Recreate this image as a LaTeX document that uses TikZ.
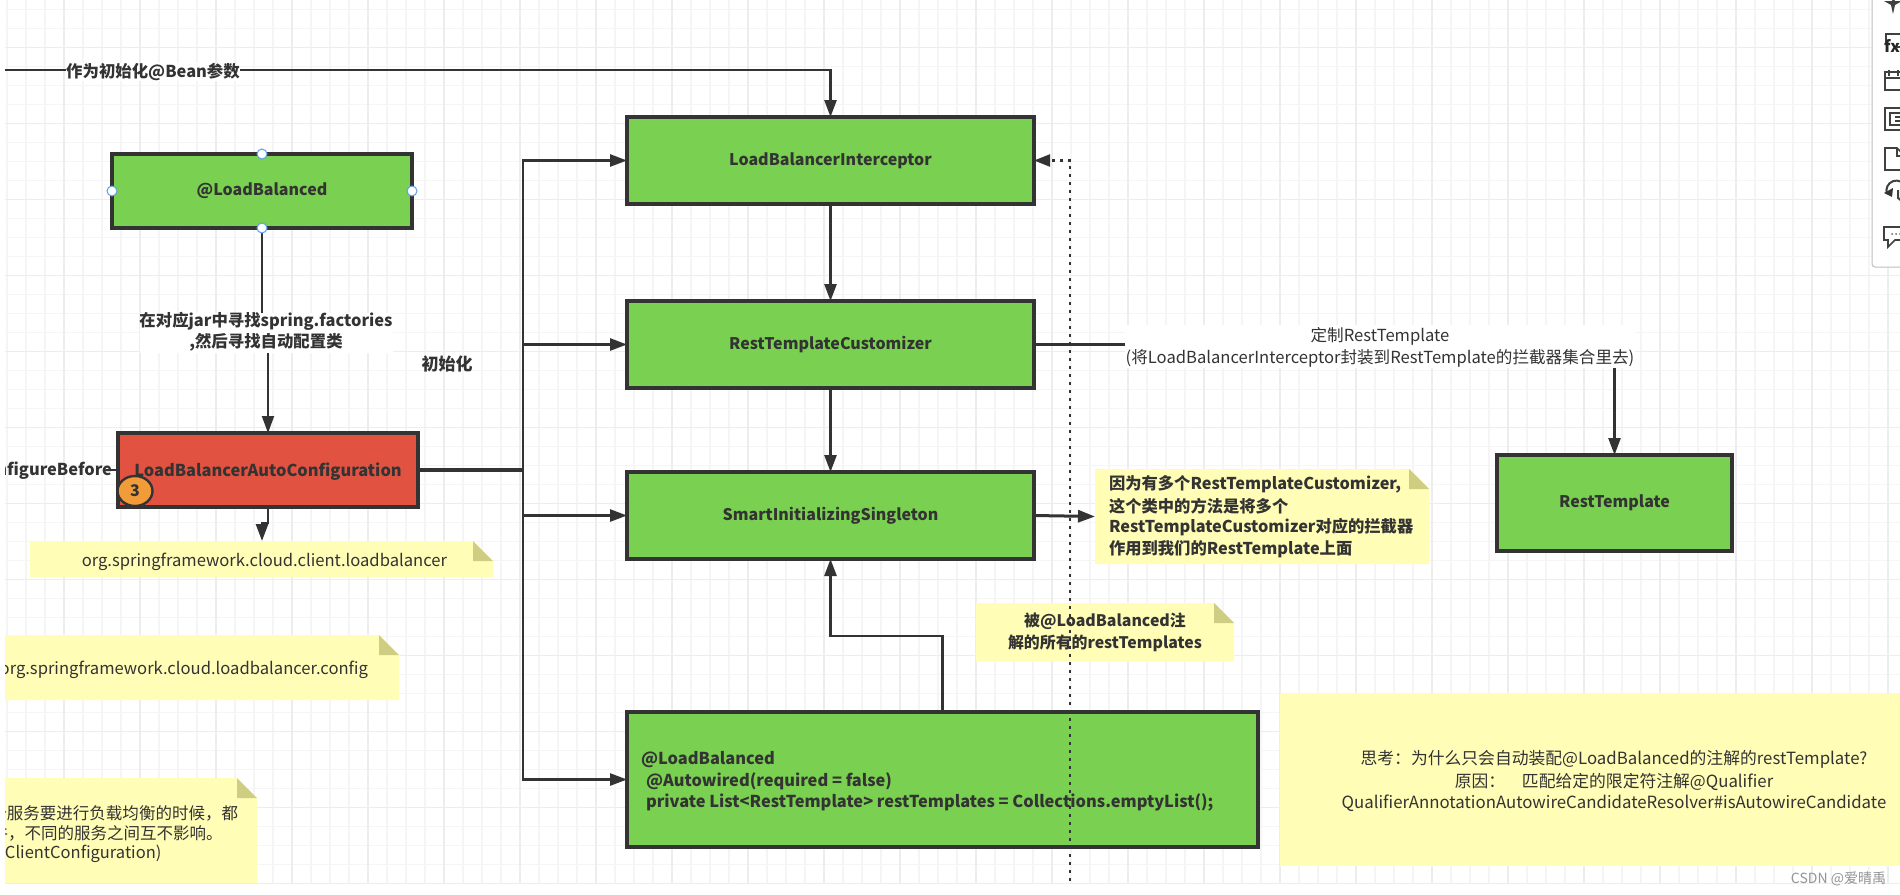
\documentclass[tikz,border=0pt]{standalone}
\usepackage{fontspec}
\setmainfont{Noto Sans CJK SC}
\usetikzlibrary{arrows.meta,shapes.geometric}
\definecolor{ink}{HTML}{333333}
\definecolor{boxgreen}{HTML}{7AD050}
\definecolor{boxred}{HTML}{E25241}
\definecolor{noteyellow}{HTML}{FFFDB6}
\definecolor{notefold}{HTML}{CFCD82}
\definecolor{gridminor}{HTML}{F5F5F5}
\definecolor{gridmajor}{HTML}{EDEDED}
\definecolor{badgeorange}{HTML}{F19C38}
\definecolor{handleblue}{HTML}{5A9EEC}
\newcommand{\fs}[1]{\fontsize{#1}{#1}\selectfont}
\newcommand{\dn}[1]{\raisebox{-2pt}{#1}}
\tikzset{
  x=1pt,y=-1pt,
  flow/.style={draw=ink,line width=2.6pt,-{Triangle[length=17pt,width=12pt]}},
  link/.style={draw=ink,line width=2.6pt},
  dots/.style={draw=ink,line width=2.4pt,dash pattern=on 3pt off 5pt,-{Triangle[length=16pt,width=12pt]}},
  block/.style={draw=ink,line width=3.2pt,inner sep=0pt,outer sep=0pt,text=ink,font=\fs{16}\bfseries},
  green/.style={block,fill=boxgreen},
  label/.style={text=ink,inner sep=0pt,outer sep=0pt,align=center},
  halo/.style={fill=white,inner sep=0pt,outer sep=0pt},
  grab/.style={ellipse,draw=handleblue,fill=white,line width=1pt,minimum width=10pt,minimum height=10pt,inner sep=0pt,outer sep=0pt},
  notearea/.style={inner sep=0pt,outer sep=0pt},
  tool/.style={draw=black!75,line width=1.6pt,fill=none},
}
% name, x0, y0, x1, y1: yellow sticky note with folded corner
\newcommand{\stickynote}[5]{%
  \path[fill=noteyellow] (#2,#3) -- ({#4-20},#3) -- (#4,{#3+20}) -- (#4,#5) -- (#2,#5) -- cycle;
  \path[fill=notefold] ({#4-20},#3) -- (#4,{#3+20}) -- ({#4-20},{#3+20}) -- cycle;
  \node[notearea,minimum width={(#4-#2)*1pt},minimum height={(#5-#3)*1pt}] (#1) at ({(#2+#4)/2},{(#3+#5)/2}) {};
}
\begin{document}
\begin{tikzpicture}
\useasboundingbox (0,0) rectangle (1900,894);
\fill[white] (0,0) rectangle (1900,894);
% canvas grid
\begin{scope}
  \clip (5,0) rectangle (1900,883);
  \foreach \k in {0,...,100} \draw[gridminor,line width=1.4pt] ({7+19*\k},0) -- ({7+19*\k},883);
  \foreach \k in {0,...,47} \draw[gridminor,line width=1.4pt] (0,{9.5+19*\k}) -- (1900,{9.5+19*\k});
  \foreach \k in {0,...,25} \draw[gridmajor,line width=1.4pt] ({-12+76*\k},0) -- ({-12+76*\k},883);
  \foreach \k in {0,...,11} \draw[gridmajor,line width=1.4pt] (0,{47.5+76*\k}) -- (1900,{47.5+76*\k});
\end{scope}

% notes
\stickynote{noteclient}{30}{541}{493}{577}
\stickynote{noteconfig}{5}{635}{399}{700}
\stickynote{notethread}{5}{778}{257}{883}
\stickynote{notesmart}{1095}{469}{1429}{564}
\stickynote{noteinject}{976}{603}{1234}{661}
\fill[noteyellow] (1280,693) rectangle (1900,866);

% boxes
\node[green,minimum width=300pt,minimum height=74pt] (lb) at (262,191) {\dn{@LoadBalanced}};
\node[block,fill=boxred,minimum width=300pt,minimum height=74pt] (red) at (268,470) {};
\node[green,minimum width=407pt,minimum height=87pt] (interceptor) at (830.5,160.5) {\dn{LoadBalancerInterceptor}};
\node[green,minimum width=407pt,minimum height=87pt] (customizer) at (830.5,344.5) {\dn{RestTemplateCustomizer}};
\node[green,minimum width=407pt,minimum height=87pt] (smart) at (830.5,515.5) {\dn{SmartInitializingSingleton}};
\node[green,minimum width=631pt,minimum height=135pt] (inject) at (942.5,779.5) {};
\node[green,minimum width=235pt,minimum height=96pt] (resttemplate) at (1614.5,503) {\dn{RestTemplate}};

% connector junctions
\coordinate (topstart) at (5,70);
\coordinate (jogA) at (262,333);
\coordinate (jogB) at (268,333);
\coordinate (downA) at (268,523);
\coordinate (downB) at (262,523);
\coordinate (trunk) at (523,470);
\coordinate (bendup) at (942.5,636);
\coordinate (dotend) at (1070,881);

% connectors
\draw[flow] (topstart) -| (interceptor.north);
\draw[link,line width=2pt,-{Triangle[length=17pt,width=12pt]}] (lb.south) -- (jogA) -- (jogB) -- (red.north);
\draw[flow] (red.south) -- (downA) -- (downB) -- (noteclient.north -| downB);
\draw[link,line width=3.2pt] (red.east) -- (trunk);
\draw[flow] (trunk) |- (interceptor.west);
\draw[flow] (trunk) |- (customizer.west);
\draw[flow] (trunk) |- (smart.west);
\draw[flow] (trunk) |- (inject.west);
\draw[flow] (interceptor.south) -- (customizer.north);
\draw[flow] (customizer.south) -- (smart.north);
\draw[flow] (inject.north -| bendup) -- (bendup) -| (smart.south);
\draw[flow,line width=3pt] (smart.east) -- (notesmart.west);
\draw[flow] (customizer.east) -| (resttemplate.north);

% connector labels
\node[halo,label,font=\fs{16.4}\bfseries] (beanlabel) at (153,72) {作为初始化@Bean参数};
\node[halo,minimum width=253pt,minimum height=40pt] (factorybg) at (266.5,333) {};
\node[label,font=\fs{16.4}\bfseries] (factorylabel) at (266,332) {在对应jar中寻找spring.factories\\[2pt],然后寻找自动配置类};
\node[label,font=\fs{17}\bfseries] (initlabel) at (447,364) {初始化};
\node[halo,minimum width=510pt,minimum height=43pt] (customlabelbg) at (1380,346.5) {};
\node[label,font=\fs{16.6}] (customlabel) at (1380,347.5) {定制RestTemplate\\[3.5pt](将LoadBalancerInterceptor封装到RestTemplate的拦截器集合里去)};
\draw[link,line width=1.5pt] (106,470) -- (red.west);
\begin{scope}
  \clip (5,0) rectangle (1900,894);
  \node[label,anchor=east,font=\fs{16.4}\bfseries] (beforelabel) at (112,471) {nfigureBefore};
  \node[label,anchor=east,font=\fs{16.6}] (configtext) at (368,670) {org.springframework.cloud.loadbalancer.config};
  \node[label,anchor=west,align=left,font=\fs{16.5}] (threadtext1) at (-9.5,813) {个服务要进行负载均衡的时候，都};
  \node[label,anchor=west,align=left,font=\fs{16.5}] (threadtext2) at (-8.5,833) {件，不同的服务之间互不影响。};
  \node[label,anchor=west,align=left,font=\fs{16.5}] (threadtext3) at (5,854) {ClientConfiguration)};
\end{scope}

% red box contents
\node[label,font=\fs{16.4}\bfseries] (redlabel) at (268,472) {LoadBalancerAutoConfiguration};
\node[ellipse,draw=ink,fill=badgeorange,line width=2.4pt,minimum width=35pt,minimum height=30pt,inner sep=0pt,text=ink,font=\fs{16}\bfseries] (badge) at (135,491) {3};

% bottom box text
\node[label,anchor=west,align=left,font=\fs{16.4}\bfseries] (injectline1) at (641,760) {@LoadBalanced};
\node[label,anchor=west,align=left,font=\fs{16.4}\bfseries] (injectline2) at (646,781) {@Autowired(required = false)};
\node[label,anchor=west,align=left,font=\fs{16.4}\bfseries] (injectline3) at (646,802) {private List<RestTemplate> restTemplates = Collections.emptyList();};

% note texts
\node[label,anchor=east,font=\fs{16.6}] (clienttext) at (447,562) {org.springframework.cloud.client.loadbalancer};
\node[label,anchor=west,align=left,font=\fs{16.3}\bfseries] (smarttext) at (1109,516.5) {因为有多个RestTemplateCustomizer,\\[3.7pt]这个类中的方法是将多个\\[3.7pt]RestTemplateCustomizer对应的拦截器\\[3.7pt]作用到我们的RestTemplate上面};
\node[label,font=\fs{15.9}\bfseries] (injecttext) at (1105,632.5) {被@LoadBalanced注\\[4.6pt]解的所有的restTemplates};
\node[label,font=\fs{16.8}] (thinktext) at (1614,781) {思考：为什么只会自动装配@LoadBalanced的注解的restTemplate?\\[3.7pt]原因：\quad 匹配给定的限定符注解@Qualifier\\[3.7pt]QualifierAnnotationAutowireCandidateResolver\#isAutowireCandidate};

% selection handles
\node[grab] (handleN) at (lb.north) {};
\node[grab] (handleS) at (lb.south) {};
\node[grab] (handleW) at (lb.west) {};
\node[grab] (handleE) at (lb.east) {};

% dotted connector runs over everything
\draw[dots] (dotend) |- (interceptor.east);

% toolbar
\fill[white,draw=black!25,line width=1pt,rounded corners=3pt] (1872,-6) -- (1872,267) -- (1910,267) -- (1910,-6) -- cycle;
\begin{scope}
  \clip (1872,0) rectangle (1900,267);
  \fill[black!75] (1893,14) -- (1891,5) -- (1884,1) -- (1892,1) -- (1893,-2) -- (1895,1) -- (1902,1) -- (1895,5) -- cycle;
  \draw[tool] (1886,44) -- (1886,34) -- (1905,34);
  \node[label,text=black!85,font=\fs{16}\bfseries\itshape] (fxicon) at (1892,46) {fx};
  \draw[tool] (1897,47) -- (1905,47);
  \draw[tool] (1885,78) rectangle (1905,90);
  \draw[tool] (1885,78) -- (1885,72) -- (1905,72);
  \draw[tool] (1889,70) -- (1889,76) (1898,70) -- (1898,76);
  \draw[tool] (1885,108) rectangle (1905,130);
  \draw[tool] (1890,113) rectangle (1905,125);
  \draw[tool] (1895,117) -- (1905,117) (1895,121) -- (1905,121);
  \draw[tool] (1905,170) -- (1885,170) -- (1885,148) -- (1897,148) -- (1905,156);
  \draw[tool] (1897,148) -- (1897,156) -- (1905,156);
  \draw[tool,line width=2pt] (1887,194) arc[start angle=200,end angle=-40,radius=10pt];
  \draw[tool,line width=2pt] (1898,190) -- (1898,198) -- (1903,202);
  \fill[black!80] (1884,193) -- (1893,188) -- (1892,197) -- cycle;
  \draw[tool] (1905,227) -- (1884,227) -- (1884,240) -- (1888,240) -- (1888,247) -- (1895,240) -- (1905,240);
  \fill[black!60] (1892,234) circle[radius=1pt] (1896,234) circle[radius=1pt] (1900,234) circle[radius=1pt];
\end{scope}
\node[label,text=black!42,anchor=east,font=\fs{14}] (watermark) at (1886,879) {CSDN @爱晴禹};
\end{tikzpicture}
\end{document}
